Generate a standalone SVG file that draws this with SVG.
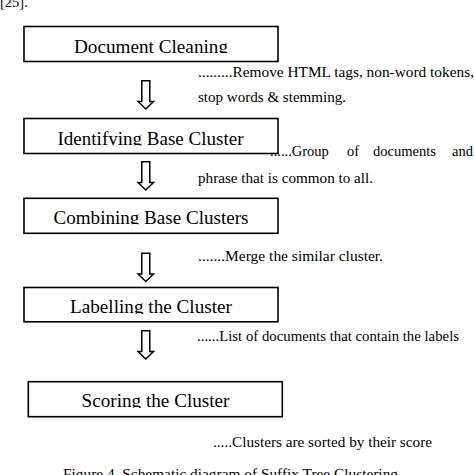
<svg xmlns="http://www.w3.org/2000/svg" width="474" height="475" viewBox="0 0 474 475">
<style>
.box{fill:#fff;stroke:#000;stroke-width:1.6}
.bt{font-family:"Liberation Serif","Times New Roman",serif;font-size:18px;fill:#000;text-anchor:middle}
.ann{font-family:"Liberation Serif","Times New Roman",serif;font-size:14.5px;fill:#000}
.arr{fill:#fff;stroke:#000;stroke-width:1.5;stroke-linejoin:miter}
</style>
<defs>
<clipPath id="c1"><rect x="24" y="26" width="254" height="27"/></clipPath>
<clipPath id="c2"><rect x="24" y="118" width="254" height="27.5"/></clipPath>
<clipPath id="c3"><rect x="24" y="198" width="254" height="26.3"/></clipPath>
<clipPath id="c4"><rect x="24" y="287" width="254" height="27"/></clipPath>
<clipPath id="c5"><rect x="28" y="381" width="254" height="27"/></clipPath>
</defs>
<rect width="474" height="475" fill="#fff"/>
<text class="ann" x="0" y="7" font-size="16">[25].</text>
<g id="n1">
<rect class="box" x="24" y="26.5" width="254" height="35"/>
<text class="bt" x="151" y="52.5" clip-path="url(#c1)" textLength="154" lengthAdjust="spacingAndGlyphs">Document Cleaning</text>
</g>
<g id="n2">
<rect class="box" x="24" y="118.5" width="254" height="35"/>
<text class="bt" x="150.5" y="145" clip-path="url(#c2)" textLength="186" lengthAdjust="spacingAndGlyphs">Identifying Base Cluster</text>
</g>
<g id="n3">
<rect class="box" x="24" y="198.3" width="254" height="35"/>
<text class="bt" x="151" y="223.5" clip-path="url(#c3)" textLength="195" lengthAdjust="spacingAndGlyphs">Combining Base Clusters</text>
</g>
<g id="n4">
<rect class="box" x="24" y="287.5" width="254" height="34.3"/>
<text class="bt" x="151" y="313.3" clip-path="url(#c4)" textLength="162" lengthAdjust="spacingAndGlyphs">Labelling the Cluster</text>
</g>
<g id="n5">
<rect class="box" x="28.3" y="381.7" width="254" height="35"/>
<text class="bt" x="155.5" y="407" clip-path="url(#c5)" textLength="148" lengthAdjust="spacingAndGlyphs">Scoring the Cluster</text>
</g>
<g id="connectors">
<polygon class="arr" points="141.8,80.7 149.8,80.7 149.8,101.5 153.5,101.5 145.8,109 138.1,101.5 141.8,101.5"/>
<polygon class="arr" points="141.8,161.7 149.8,161.7 149.8,182.5 153.5,182.5 145.8,190 138.1,182.5 141.8,182.5"/>
<polygon class="arr" points="141.8,253.3 149.8,253.3 149.8,274 153.5,274 145.8,281.5 138.1,274 141.8,274"/>
<polygon class="arr" points="141.8,330.7 149.8,330.7 149.8,351.5 153.5,351.5 145.8,359 138.1,351.5 141.8,351.5"/>
</g>
<g id="annotations">
<text class="ann" x="198" y="77.3" textLength="276" lengthAdjust="spacingAndGlyphs">.........Remove HTML tags, non-word tokens,</text>
<text class="ann" x="198" y="101.7" textLength="148" lengthAdjust="spacingAndGlyphs">stop words &amp; stemming.</text>
<text class="ann" y="156"><tspan x="270">......Group</tspan> <tspan x="347">of</tspan> <tspan x="373">documents</tspan> <tspan x="452">and</tspan></text>
<text class="ann" x="198" y="182.5" textLength="175" lengthAdjust="spacingAndGlyphs">phrase that is common to all.</text>
<text class="ann" x="198" y="261" textLength="185" lengthAdjust="spacingAndGlyphs">.......Merge the similar cluster.</text>
<text class="ann" x="197" y="340.5" textLength="262" lengthAdjust="spacingAndGlyphs">......List of documents that contain the labels</text>
<text class="ann" x="213" y="446.7" textLength="219" lengthAdjust="spacingAndGlyphs">.....Clusters are sorted by their score</text>
<text class="ann" x="63" y="478.5" textLength="335" lengthAdjust="spacingAndGlyphs">Figure 4. Schematic diagram of Suffix Tree Clustering</text>
</g>
</svg>
